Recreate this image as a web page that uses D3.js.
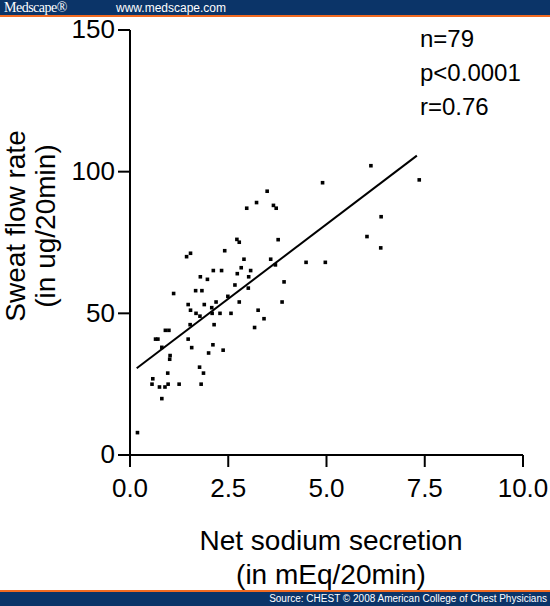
<!DOCTYPE html>
<html>
<head>
<meta charset="utf-8">
<script src="https://cdn.jsdelivr.net/npm/d3@7"></script>
<style>
  html, body { margin: 0; padding: 0; background: #fff; }
  svg { display: block; font-family: "Liberation Sans", Arial, Helvetica, sans-serif; }
</style>
</head>
<body>
<svg id="chart" width="550" height="606"></svg>
<script>
// net sodium secretion (mEq/20min)
var sodium = [
    3.49, 3.22, 2.97, 3.65, 3.72, 2.72, 2.78, 3.77, 2.41, 1.54,
    1.44, 2.90, 3.58, 3.70, 2.83, 3.07, 2.12, 2.33, 2.73, 3.02,
    1.79, 1.97, 3.92, 2.67, 3.01, 1.67, 1.83, 1.11, 2.49, 2.78,
    3.87, 1.48, 1.89, 2.19, 2.08, 1.54, 1.68, 1.78, 2.09, 2.29,
    2.57, 3.26, 3.41, 1.53, 2.14, 3.17,
    0.19, 0.65, 0.71, 0.90, 0.99, 0.81, 1.48, 1.57, 2.11, 2.00,
    2.37, 1.02, 1.01, 0.96, 0.58, 0.56, 0.75, 0.89, 0.97, 1.25,
    0.81, 1.77, 1.87, 1.81,
    6.13, 7.36, 4.90, 6.39, 6.03, 6.38, 4.48, 4.97
];
// sweat flow rate (ug/20min), same order
var sweat = [
    93.1, 89.1, 87.1, 88.1, 87.1, 76.1, 75.1, 76.0, 72.1, 71.2,
    70.0, 69.1, 69.1, 67.1, 66.1, 65.1, 65.1, 65.1, 64.0, 62.9,
    62.9, 62.0, 61.1, 60.0, 58.9, 58.0, 58.0, 57.0, 56.0, 54.0,
    54.0, 53.1, 53.1, 54.0, 52.0, 51.1, 50.0, 49.0, 50.0, 50.0,
    50.0, 51.1, 48.1, 46.0, 46.0, 45.0,
    7.9, 40.9, 40.9, 44.0, 44.0, 38.0, 40.9, 37.9, 38.9, 36.0,
    37.0, 35.1, 33.8, 28.9, 26.9, 25.0, 24.0, 24.0, 25.0, 25.0,
    19.9, 31.0, 28.9, 25.0,
    102.1, 97.1, 96.1, 84.1, 77.1, 73.1, 68.0, 68.0
];

var xTicks = [0, 2.5, 5, 7.5, 10];
var yTicks = [0, 50, 100, 150];

// regression line as drawn (slope, intercept, x range)
var fitSlope = 10.53, fitIntercept = 28.8;
var fitRange = [0.17, 7.3];

var stats = ["n=79", "p<0.0001", "r=0.76"];

var svg = d3.select("#chart");
var blue = "#0b3468", orange = "#f26a21";

// header band
svg.append("rect").attr("x", 0).attr("y", 0).attr("width", 550).attr("height", 15).attr("fill", blue);
svg.append("rect").attr("x", 0).attr("y", 15).attr("width", 550).attr("height", 2).attr("fill", orange);
svg.append("text").attr("x", 4).attr("y", 12)
    .style("font-family", "'Liberation Serif', 'DejaVu Serif', serif")
    .style("font-size", "14px").attr("fill", "#fff").attr("letter-spacing", "-0.5")
    .text("Medscape\u00ae");
svg.append("text").attr("x", 116).attr("y", 12)
    .style("font-size", "12px").attr("fill", "#fff")
    .text("www.medscape.com");

// footer band
svg.append("rect").attr("x", 0).attr("y", 590).attr("width", 550).attr("height", 2).attr("fill", orange);
svg.append("rect").attr("x", 0).attr("y", 592).attr("width", 550).attr("height", 14).attr("fill", blue);
svg.append("text").attr("x", 547).attr("y", 602).attr("text-anchor", "end")
    .style("font-size", "10px").attr("fill", "#fff")
    .text("Source: CHEST \u00a9 2008 American College of Chest Physicians");

var x = d3.scaleLinear().domain([0, 10]).range([130, 523]);
var y = d3.scaleLinear().domain([0, 150]).range([455, 30]);

var xAxis = svg.append("g")
    .attr("transform", "translate(0,455)")
    .call(d3.axisBottom(x).tickValues(xTicks).tickFormat(d3.format(".1f"))
        .tickSize(12).tickPadding(12).offset(0));

var yAxis = svg.append("g")
    .attr("transform", "translate(130,0)")
    .call(d3.axisLeft(y).tickValues(yTicks).tickFormat(d3.format("d"))
        .tickSize(12).tickPadding(3).offset(0));

[xAxis, yAxis].forEach(function(a) {
    a.select(".domain").attr("stroke", "#000").attr("stroke-width", 2);
    a.selectAll(".tick line").attr("stroke", "#000").attr("stroke-width", 2);
    a.selectAll(".tick text").attr("fill", "#000")
        .style("font-family", "'Liberation Sans', Arial, sans-serif")
        .style("font-size", "26px");
});
// domain path without end caps
xAxis.select(".domain").attr("d", "M" + x(0) + ",0H" + x(10));
yAxis.select(".domain").attr("d", "M0," + y(150) + "V" + y(0));

// axis titles
var xt = svg.append("text").attr("text-anchor", "middle")
    .style("font-size", "28px").attr("fill", "#000");
xt.append("tspan").attr("x", 331).attr("y", 550).text("Net sodium secretion");
xt.append("tspan").attr("x", 331).attr("y", 584).text("(in mEq/20min)");

var yt = svg.append("text").attr("text-anchor", "middle")
    .attr("transform", "translate(0,226) rotate(-90)")
    .style("font-size", "28px").attr("fill", "#000");
yt.append("tspan").attr("x", 0).attr("y", 25).text("Sweat flow rate");
yt.append("tspan").attr("x", 0).attr("y", 55).text("(in ug/20min)");

// points
var pts = sodium.map(function(d, i) { return [d, sweat[i]]; });
var s = 3.6;
svg.append("g").selectAll("rect")
    .data(pts)
  .enter().append("rect")
    .attr("x", function(d) { return x(d[0]) - s / 2; })
    .attr("y", function(d) { return y(d[1]) - s / 2; })
    .attr("width", s)
    .attr("height", s)
    .attr("fill", "#000");

// regression line
var line = d3.line()
    .x(function(d) { return x(d); })
    .y(function(d) { return y(fitSlope * d + fitIntercept); });
svg.append("path")
    .datum(fitRange)
    .attr("d", line)
    .attr("fill", "none")
    .attr("stroke", "#000")
    .attr("stroke-width", 2);

// stats
svg.append("g").selectAll("text")
    .data(stats)
  .enter().append("text")
    .attr("x", 420)
    .attr("y", function(d, i) { return 47 + i * 34; })
    .style("font-size", "24px")
    .attr("fill", "#000")
    .text(function(d) { return d; });
</script>
</body>
</html>
